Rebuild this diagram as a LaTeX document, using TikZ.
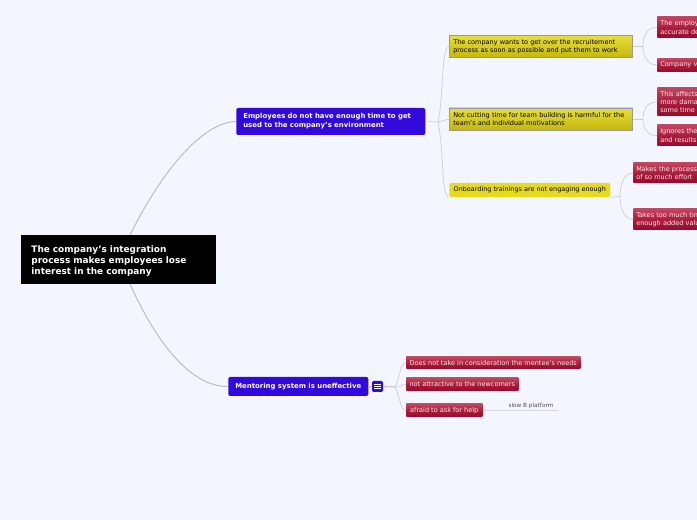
\documentclass[tikz,border=0pt]{standalone}
\usepackage{fontspec}
\setmainfont{DejaVu Sans}
\definecolor{pagebg}{HTML}{F4F6FF}
\definecolor{linkgray}{HTML}{C9CCD6}
\definecolor{rootlink}{HTML}{B8BAC2}
\definecolor{bluebox}{HTML}{3209DC}
\definecolor{yellowtop}{HTML}{E8DE3A}
\definecolor{yellowbot}{HTML}{C4B80E}
\definecolor{yellowflat}{HTML}{E6DA1E}
\definecolor{redtop}{HTML}{C24560}
\definecolor{redmid}{HTML}{A91E3C}
\definecolor{redbot}{HTML}{980A2C}
\tikzset{rootbox/.style={fill=black, text=white, anchor=north west, align=left, inner sep=0pt, font=\fontsize{6.7}{8.3}\selectfont\bfseries}}
\tikzset{bluenode/.style={fill=bluebox, text=white, rounded corners=1.5pt, anchor=west, inner xsep=5.25pt, inner ysep=0pt, align=left, font=\fontsize{5.2}{6.8}\selectfont\bfseries}}
\tikzset{yellownode/.style={top color=yellowtop, bottom color=yellowbot, draw=gray!80, anchor=west, inner xsep=3pt, inner ysep=0pt, align=left, font=\fontsize{4.9}{6.2}\selectfont}}
\tikzset{rednode/.style={top color=redtop, bottom color=redbot, middle color=redmid, text=white!90!red, anchor=west, inner xsep=2.25pt, inner ysep=0pt, align=left, font=\fontsize{4.9}{6.2}\selectfont}}
\tikzset{link/.style={draw=linkgray, line width=0.5pt}}

\begin{document}
\begin{tikzpicture}[x=0.75pt, y=-0.75pt]
    \useasboundingbox[fill=pagebg] (0, 0) rectangle (697, 520);
    \clip (0, 0) rectangle (697, 520);

    % central topic
    \node[rootbox, minimum width=146.25pt, minimum height=36.75pt, text width=131pt] (ROOT) at (21, 235)
        {\rule{0pt}{7pt}The company's integration\\process makes employees lose\\interest in the company};

    % main branches
    \node[bluenode, minimum height=20.25pt, text width=131.25pt] (EMPLOYEES) at (236, 121.5)
        {Employees do not have enough time to get\\used to the company's environment};
    \node[bluenode, minimum width=105pt, minimum height=14.25pt, inner xsep=0pt] (MENTORING) at (228, 386.5)
        {Mentoring system is uneffective};
    \node[fill=bluebox, rounded corners=1pt, minimum size=8.25pt, inner sep=0pt] (NOTE) at (377.5, 386.5) {};
    \foreach \y in {-1.6, 0, 1.6} {
        \draw[white, line width=0.4pt] ([xshift=-2.6pt, yshift=\y pt]NOTE.center) -- ([xshift=2.6pt, yshift=\y pt]NOTE.center);
    }

    % yellow subtopics
    \node[yellownode, minimum height=16.5pt, text width=131.5pt] (RECRUIT) at (449, 46.5)
        {The company wants to get over the recruitement\\process as soon as possible and put them to work};
    \node[yellownode, minimum height=16.5pt, text width=131.5pt] (TEAM) at (449, 119)
        {Not cutting time for team building is harmful for the\\team's and individual motivations};
    \node[fill=yellowflat, rounded corners=1.5pt, anchor=west, inner xsep=0pt, inner ysep=0pt, font=\fontsize{4.85}{6.2}\selectfont, minimum width=120.75pt, minimum height=10.5pt] (TRAINING) at (449, 190)
        {Onboarding trainings are not engaging enough};

    % red leaves
    \node[rednode, minimum height=15.75pt, text width=60pt] (EMPLOY) at (657, 27.5)
        {The employ\\accurate de};
    \node[rednode, minimum height=9.75pt, text width=60pt] (VIEW) at (657, 65)
        {Company v};
    \node[rednode, minimum height=21pt, text width=60pt] (AFFECTS) at (657, 102)
        {This affects\\more dama\\some time};
    \node[rednode, minimum height=15.75pt, text width=60pt] (IGNORES) at (657, 135.5)
        {Ignores the\\and results};
    \node[rednode, minimum height=15pt, text width=80pt] (PROCESS) at (633, 173)
        {Makes the process\\of so much effort};
    \node[rednode, minimum height=15.75pt, text width=80pt] (LONG) at (633, 219.5)
        {Takes too much tim\\enough added valu};
    \node[rednode, minimum width=130.5pt, minimum height=9pt, inner xsep=0pt] (NEEDS) at (406, 363)
        {Does not take in consideration the mentee's needs};
    \node[rednode, minimum width=84pt, minimum height=9.75pt, inner xsep=0pt] (ATTRACT) at (406, 384.5)
        {not attractive to the newcomers};
    \node[rednode, minimum width=57pt, minimum height=9.75pt, inner xsep=0pt] (AFRAID) at (406, 410.5)
        {afraid to ask for help};

    % small label on a line
    \coordinate (PLATFORMSTART) at (483, 411);
    \coordinate (PLATFORMEND) at (558, 411);
    \node[font=\fontsize{4.3}{5}\selectfont, text=black!70, inner sep=0pt] (PLATFORM) at (531, 405.5) {slow B platform};

    % connectors
    \coordinate (ROOTUP) at (130, 235);
    \coordinate (ROOTDOWN) at (130, 284);
    \draw[draw=rootlink, line width=0.7pt] (ROOTUP) .. controls (165, 165) and (205, 122) .. (EMPLOYEES.west);
    \draw[draw=rootlink, line width=0.7pt] (ROOTDOWN) .. controls (155, 340) and (190, 387) .. (MENTORING.west);

    \coordinate (FORK1) at (438, 122);
    \draw[link] (EMPLOYEES.east) ++(2, 0) -- (FORK1);
    \draw[link] (FORK1) .. controls (444, 95) and (441, 48) .. (RECRUIT.west);
    \draw[link] (FORK1) .. controls (441, 122) and (444, 120) .. (TEAM.west);
    \draw[link] (FORK1) .. controls (444, 150) and (441, 196) .. (TRAINING.south west);

    \coordinate (FORK2) at (643, 46.5);
    \draw[link] (RECRUIT.east) -- (FORK2);
    \draw[link] (FORK2) .. controls (643, 35) and (647, 27.5) .. (EMPLOY.west);
    \draw[link] (FORK2) .. controls (643, 55) and (647, 65) .. (VIEW.west);

    \coordinate (FORK3) at (643, 119);
    \draw[link] (TEAM.east) -- (FORK3);
    \draw[link] (FORK3) .. controls (643, 110) and (647, 102) .. (AFFECTS.west);
    \draw[link] (FORK3) .. controls (643, 128) and (647, 135.5) .. (IGNORES.west);

    \coordinate (FORK4) at (620, 196.5);
    \draw[link] (TRAINING.south east) -- (FORK4);
    \draw[link] (FORK4) .. controls (620, 185) and (624, 173) .. (PROCESS.west);
    \draw[link] (FORK4) .. controls (620, 208) and (624, 219.5) .. (LONG.west);

    \coordinate (FORK5) at (395, 387);
    \draw[link, line width=1pt] (NOTE.east) -- (FORK5);
    \draw[link] (FORK5) .. controls (400, 378) and (400, 363) .. (NEEDS.west);
    \draw[link] (FORK5) .. controls (399, 387) and (402, 385) .. (ATTRACT.west);
    \draw[link] (FORK5) .. controls (400, 396) and (400, 410.5) .. (AFRAID.west);
    \draw[link] (MENTORING.east) -- (NOTE.west);
    \draw[link, line width=0.75pt, draw=linkgray!80] (PLATFORMSTART) -- (PLATFORMEND);
\end{tikzpicture}
\end{document}
